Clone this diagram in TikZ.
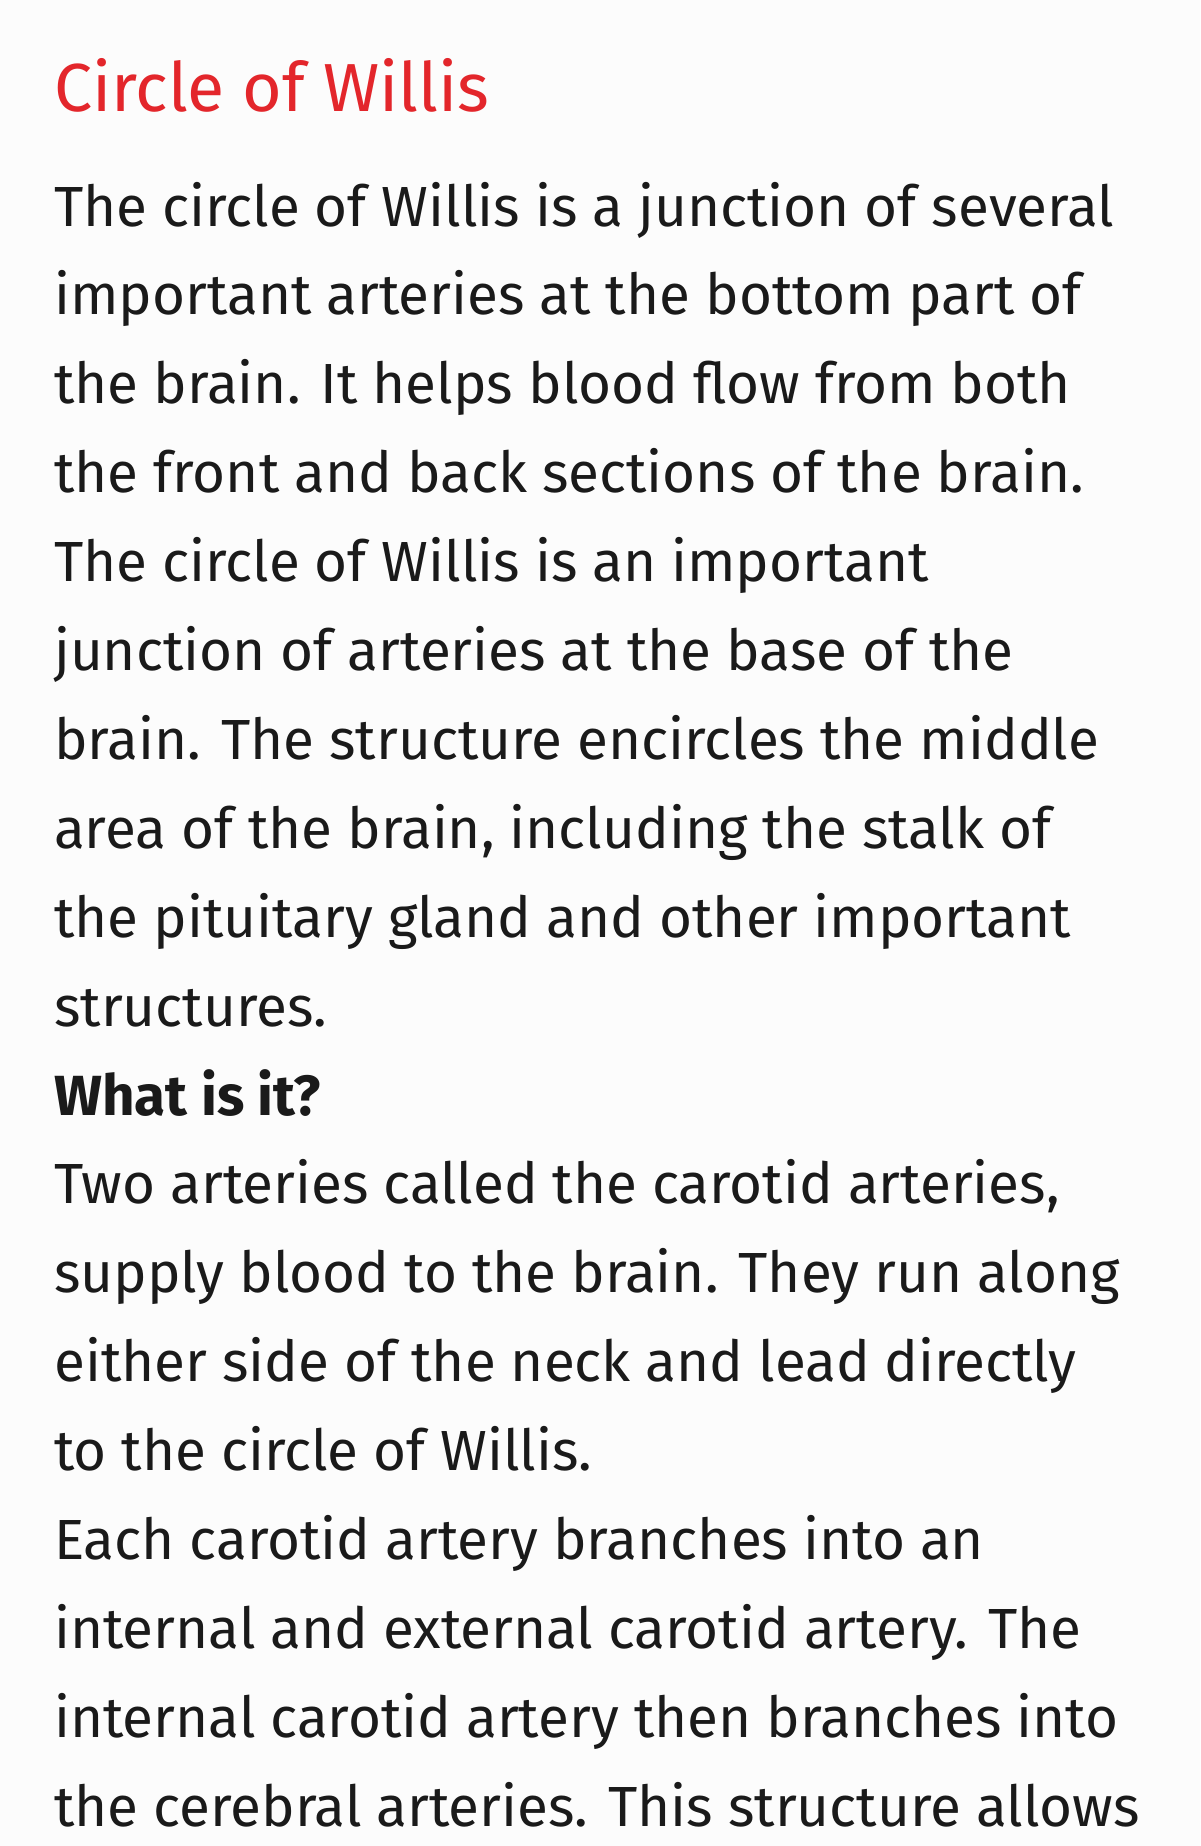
\documentclass[tikz,border=0pt]{standalone}
\usepackage{fontspec}
\setmainfont{Fira Sans}
\definecolor{titlered}{HTML}{E3262B}
\definecolor{bg}{HTML}{FCFCFC}
\definecolor{txt}{HTML}{1A1A1A}
\begin{document}
\begin{tikzpicture}[x=1pt,y=-1pt,
  line/.style={anchor=base west,inner sep=0pt,text=txt,font=\fontsize{56.6}{66}\selectfont}]
\fill[bg] (0,0) rectangle (1200,1846);
\clip (0,0) rectangle (1200,1846);
\useasboundingbox (0,0) rectangle (1200,1846);
\node[line,text=titlered,font=\fontsize{68}{78}\selectfont] (t) at (54,112) {Circle of Willis};
\foreach \i/\s in {0/{The circle of Willis is a junction of several},
1/{important arteries at the bottom part of},
2/{the brain. It helps blood flow from both},
3/{the front and back sections of the brain.},
4/{The circle of Willis is an important},
5/{junction of arteries at the base of the},
6/{brain. The structure encircles the middle},
7/{area of the brain, including the stalk of},
8/{the pituitary gland and other important},
9/{structures.},
11/{Two arteries called the carotid arteries,},
12/{supply blood to the brain. They run along},
13/{either side of the neck and lead directly},
14/{to the circle of Willis.},
15/{Each carotid artery branches into an},
16/{internal and external carotid artery. The},
17/{internal carotid artery then branches into},
18/{the cerebral arteries. This structure allows}}
  \node[line] (l\i) at (54,{226+\i*88.9}) {\s};
\node[line,font=\fontsize{56.6}{66}\selectfont\bfseries] (l10) at (54,{226+10*88.9}) {What is it?};
\end{tikzpicture}
\end{document}
